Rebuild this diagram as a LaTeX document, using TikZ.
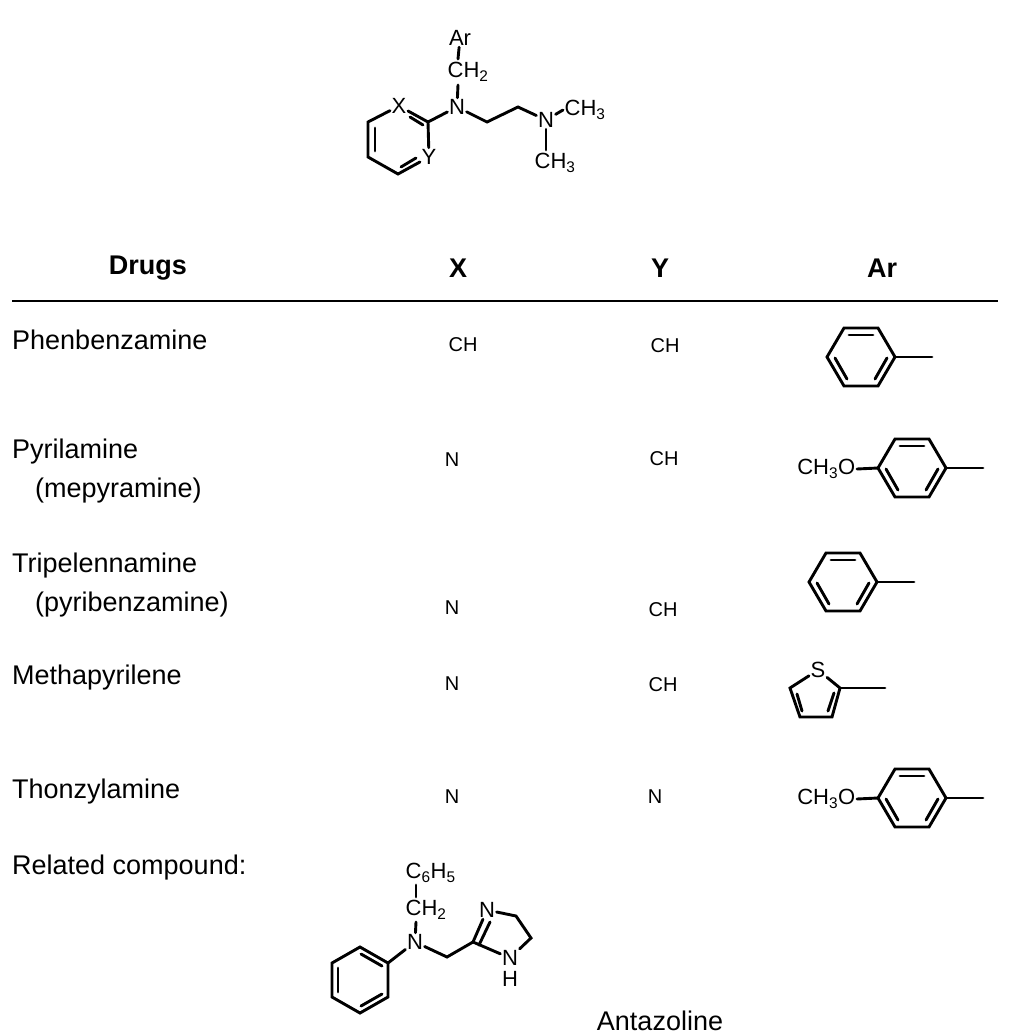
\documentclass[tikz,border=0pt]{standalone}
\usepackage{fontspec}
\setmainfont{Liberation Sans}
\begin{document}
\begin{tikzpicture}[x=1pt,y=-1pt,
 bond/.style={line width=2.9pt,line cap=round},
 atom/.style={inner sep=1.5pt,font=\fontsize{22}{22}\selectfont},
 cellx/.style={inner sep=0pt,font=\fontsize{20}{20}\selectfont},
 dname/.style={inner sep=0pt,anchor=west,font=\fontsize{27}{27}\selectfont},
 headx/.style={inner sep=0pt,font=\bfseries\fontsize{27}{27}\selectfont}]
\useasboundingbox[fill=white] (0,0) rectangle (1025,1036);
% ---- general structure
\node[atom] (ar) at (460,38) {Ar};
\node[atom,anchor=west] (ch2) at (446,72) {CH\textsubscript{2}};
\node[atom] (n1) at (457,107) {N};
\node[atom] (x) at (399,106) {X};
\node[atom] (y) at (429,157) {Y};
\coordinate (r2) at (428,122); \coordinate (rb) at (398,174);
\coordinate (rll) at (368,157); \coordinate (rul) at (368,122);
\coordinate (k1) at (487,122); \coordinate (k2) at (518,107);
\node[atom] (n2) at (546,120) {N};
\node[atom,anchor=west] (me1) at (563,110) {CH\textsubscript{3}};
\node[atom,anchor=west] (me2) at (533,163) {CH\textsubscript{3}};
\draw[bond] (ar) -- (458,59);
\draw[bond] (458,85) -- (n1);
\draw[bond] (x) -- (rul) -- (rll) -- (rb) -- (y);
\draw[bond] (x) -- (r2) -- (y);
\draw[bond] (410,117) -- (423,125);
\draw[bond] (375,128) -- (375,151);
\draw[bond] (401,167) -- (416,158);
\draw[bond] (r2) -- (n1) -- (k1) -- (k2) -- (n2) -- (me1.west);
\draw[bond] (n2) -- (546,150);
% ---- table header
\node[headx] (hd) at (148,268) {Drugs};
\node[headx] (hx) at (458,268) {X};
\node[headx] (hy) at (660,268) {Y};
\node[headx] (ha) at (882,268) {Ar};
\draw[line width=1.8pt] (12,301) -- (998,301);
% ---- names
\node[dname] (d1) at (12,340) {Phenbenzamine};
\node[dname] (d2) at (12,452) {Pyrilamine};
\node[dname] (d2b) at (35,491) {(mepyramine)};
\node[dname] (d3) at (12,566) {Tripelennamine};
\node[dname] (d3b) at (35,605) {(pyribenzamine)};
\node[dname] (d4) at (12,678) {Methapyrilene};
\node[dname] (d5) at (12,792) {Thonzylamine};
\node[dname] (d6) at (12,868) {Related compound:};
% ---- X Y
\node[cellx] (x1) at (463,345) {CH}; \node[cellx] (y1) at (665,346) {CH};
\node[cellx] (x2) at (452,460) {N};  \node[cellx] (y2) at (664,459) {CH};
\node[cellx] (x3) at (452,608) {N};  \node[cellx] (y3) at (663,610) {CH};
\node[cellx] (x4) at (452,684) {N};  \node[cellx] (y4) at (663,685) {CH};
\node[cellx] (x5) at (452,797) {N};  \node[cellx] (y5) at (655,797) {N};
% ---- Ar benzene rings
\foreach \cx/\cy in {861/357,912/468,843/582,912/798}{
 \begin{scope}[shift={(\cx,\cy)}]
  \draw[bond] (-34,0) -- (-17,-29) -- (17,-29) -- (34,0) -- (17,29) -- (-17,29) -- cycle;
  \draw[bond] (-12,-22) -- (12,-22);
  \draw[bond] (-26,1) -- (-14,22);
  \draw[bond] (26,1) -- (14,22);
  \draw[bond] (34,0) -- (71,0);
 \end{scope}}
\node[atom,anchor=east] (ome1) at (857,469) {CH\textsubscript{3}O};
\draw[bond] (ome1.east) -- (878,468);
\node[atom,anchor=east] (ome2) at (857,799) {CH\textsubscript{3}O};
\draw[bond] (ome2.east) -- (878,798);
% ---- thiophene
\node[atom] (s) at (818,670) {S};
\coordinate (t2) at (840,688); \coordinate (t3) at (832,717);
\coordinate (t4) at (800,717); \coordinate (t5) at (790,688);
\draw[bond] (s) -- (t2) -- (t3) -- (t4) -- (t5) -- (s);
\draw[bond] (797,694) -- (802,711);
\draw[bond] (834,693) -- (828,711);
\draw[bond] (t2) -- (885,688);
% ---- antazoline
\node[atom,anchor=west] (c6) at (404,873) {C\textsubscript{6}H\textsubscript{5}};
\node[atom,anchor=west] (ach2) at (404,910) {CH\textsubscript{2}};
\node[atom] (an) at (415,942) {N};
\draw[bond] (416,885) -- (416,897);
\draw[bond] (416,922) -- (an);
\begin{scope}[shift={(360,980)}]
 \draw[bond] (0,-33) -- (28,-17) -- (28,17) -- (0,33) -- (-28,17) -- (-28,-17) -- cycle;
 \draw[bond] (1,-26) -- (22,-14);
 \draw[bond] (-22,-12) -- (-22,12);
 \draw[bond] (1,26) -- (22,14);
\end{scope}
\coordinate (ph) at (388,963);
\draw[bond] (an) -- (ph);
\coordinate (am) at (447,957); \coordinate (ic2) at (473,942);
\node[atom] (in3) at (487,910) {N};
\coordinate (ic4) at (516,916); \coordinate (ic5) at (531,938);
\node[atom] (in1) at (510,958) {N};
\node[atom] (ih) at (510,979) {H};
\draw[bond] (an) -- (am) -- (ic2) -- (in3);
\draw[bond] (479,945) -- (490,922);
\draw[bond] (in3) -- (ic4) -- (ic5) -- (in1) -- (ic2);
\node[dname,anchor=center] (anz) at (660,1021) {Antazoline};
\end{tikzpicture}
\end{document}
